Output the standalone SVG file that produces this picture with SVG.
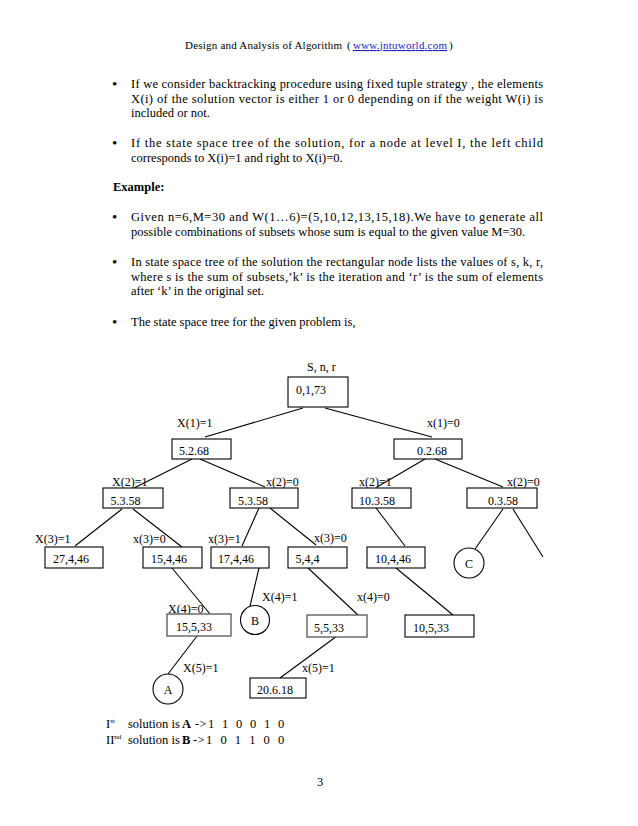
<svg xmlns="http://www.w3.org/2000/svg" width="638" height="826" viewBox="0 0 638 826">
<style>
text{font-family:"Liberation Serif","Times New Roman",serif;fill:#000}
.hd{font-size:11px}
.link{fill:#1a1ab8;text-decoration:underline}
.bd{font-size:12.5px}
.bl{font-size:15px}
.b{font-weight:bold}
.t{font-size:12px}
.box{fill:#fff;stroke:#000;stroke-width:1.1}
.gbox{fill:#fff;stroke:#555;stroke-width:1.3}
.circ{fill:#fff;stroke:#000;stroke-width:1.1}
.edge{stroke:#000;stroke-width:1.1;fill:none}
.sup{font-size:7px}
</style>
<rect width="638" height="826" fill="#fff"/>
<g id="header">
<text class="hd" x="185" y="49" textLength="157" lengthAdjust="spacing">Design and Analysis of Algorithm</text>
<text class="hd" x="347" y="49">(</text>
<text class="hd link" x="353" y="49" textLength="94" lengthAdjust="spacing">www.jntuworld.com</text>
<text class="hd" x="449" y="49">)</text>
</g>
<g id="body">
<text class="bl" x="112" y="89">•</text>
<text class="bd" x="131" y="88" textLength="412" lengthAdjust="spacing">If we consider backtracking procedure using fixed tuple strategy , the elements</text>
<text class="bd" x="131" y="102.5" textLength="412" lengthAdjust="spacing">X(i) of the solution vector is either 1 or 0 depending on if the weight W(i) is</text>
<text class="bd" x="131" y="117">included or not.</text>
<text class="bl" x="112" y="148">•</text>
<text class="bd" x="131" y="147" textLength="412" lengthAdjust="spacing">If the state space tree of the solution, for a node at level I, the left child</text>
<text class="bd" x="131" y="162">corresponds to X(i)=1 and right to X(i)=0.</text>
<text class="bd b" x="113" y="191">Example:</text>
<text class="bl" x="112" y="222">•</text>
<text class="bd" x="131" y="221" textLength="412" lengthAdjust="spacing">Given n=6,M=30 and W(1…6)=(5,10,12,13,15,18).We have to generate all</text>
<text class="bd" x="131" y="236">possible combinations of subsets whose sum is equal to the given value M=30.</text>
<text class="bl" x="112" y="267">•</text>
<text class="bd" x="131" y="266" textLength="412" lengthAdjust="spacing">In state space tree of the solution the rectangular node lists the values of s, k, r,</text>
<text class="bd" x="131" y="280.5" textLength="412" lengthAdjust="spacing">where s is the sum of subsets,’k’ is the iteration and ‘r’ is the sum of elements</text>
<text class="bd" x="131" y="295">after ‘k’ in the original set.</text>
<text class="bl" x="112" y="327">•</text>
<text class="bd" x="131" y="326">The state space tree for the given problem is,</text>
</g>
<g id="connectors">
<line class="edge" x1="303" y1="408" x2="205" y2="437"/>
<line class="edge" x1="325" y1="408" x2="432" y2="437"/>
<line class="edge" x1="192" y1="459" x2="134" y2="488"/>
<line class="edge" x1="200" y1="459" x2="265" y2="487"/>
<line class="edge" x1="425" y1="459" x2="377" y2="487"/>
<line class="edge" x1="435" y1="459" x2="503" y2="487"/>
<line class="edge" x1="122" y1="509" x2="75" y2="546"/>
<line class="edge" x1="133" y1="509" x2="182" y2="547"/>
<line class="edge" x1="259" y1="508" x2="242" y2="546"/>
<line class="edge" x1="270" y1="508" x2="316" y2="545"/>
<line class="edge" x1="376" y1="508" x2="405" y2="546"/>
<line class="edge" x1="503" y1="509" x2="475" y2="549"/>
<line class="edge" x1="513" y1="509" x2="543" y2="557"/>
<line class="edge" x1="172" y1="568" x2="210" y2="614"/>
<line class="edge" x1="259" y1="568" x2="250" y2="606"/>
<line class="edge" x1="308" y1="568" x2="358" y2="615"/>
<line class="edge" x1="396" y1="568" x2="453" y2="615"/>
<line class="edge" x1="197" y1="636" x2="168" y2="674"/>
<line class="edge" x1="337" y1="636" x2="280" y2="678"/>
</g>
<g id="edge-labels">
<text class="t" x="177" y="427">X(1)=1</text>
<text class="t" x="427" y="427">x(1)=0</text>
<text class="t" x="112" y="486">X(2)=1</text>
<text class="t" x="266" y="486">x(2)=0</text>
<text class="t" x="359" y="486">x(2)=1</text>
<text class="t" x="507" y="486">x(2)=0</text>
<text class="t" x="35" y="543">X(3)=1</text>
<text class="t" x="133" y="543">x(3)=0</text>
<text class="t" x="208" y="543">x(3)=1</text>
<text class="t" x="314" y="542">x(3)=0</text>
<text class="t" x="168" y="613">X(4)=0</text>
<text class="t" x="262" y="600.5">X(4)=1</text>
<text class="t" x="357" y="600.5">x(4)=0</text>
<text class="t" x="183" y="672">X(5)=1</text>
<text class="t" x="302" y="672">x(5)=1</text>
</g>
<g id="root"><text class="t" x="307" y="371">S, n, r</text><rect class="box" x="288" y="377" width="60" height="30"/><text class="t" x="296" y="393.5">0,1,73</text></g>
<g id="n-5-2-68"><rect class="box" x="172" y="439" width="59" height="20"/><text class="t" x="179" y="455">5.2.68</text></g>
<g id="n-0-2-68"><rect class="box" x="394" y="439" width="68" height="20"/><text class="t" x="417" y="455">0.2.68</text></g>
<g id="n-5-3-58-a"><rect class="box" x="103" y="488" width="60" height="20"/><text class="t" x="110.5" y="504.5">5.3.58</text></g>
<g id="n-5-3-58-b"><rect class="box" x="230" y="488" width="68" height="20"/><text class="t" x="238" y="504.5">5.3.58</text></g>
<g id="n-10-3-58"><rect class="box" x="352" y="488" width="59" height="20"/><text class="t" x="359" y="504.5">10.3.58</text></g>
<g id="n-0-3-58"><rect class="box" x="467" y="488" width="70" height="20"/><text class="t" x="488" y="504.5">0.3.58</text></g>
<g id="n-27-4-46"><rect class="box" x="45" y="547" width="58" height="21"/><text class="t" x="53" y="563">27,4,46</text></g>
<g id="n-15-4-46"><rect class="box" x="143" y="547" width="59" height="21"/><text class="t" x="151" y="563">15,4,46</text></g>
<g id="n-17-4-46"><rect class="box" x="211" y="547" width="58" height="21"/><text class="t" x="218" y="563">17,4,46</text></g>
<g id="n-5-4-4"><rect class="box" x="288" y="547" width="59" height="21"/><text class="t" x="295.5" y="563">5,4,4</text></g>
<g id="n-10-4-46"><rect class="box" x="367" y="547" width="58" height="21"/><text class="t" x="375" y="563">10,4,46</text></g>
<g id="n-C"><circle class="circ" cx="469" cy="563" r="15"/><text class="t" x="469" y="567.5" text-anchor="middle">C</text></g>
<g id="n-15-5-33"><rect class="gbox" x="167" y="614" width="64" height="22"/><text class="t" x="176" y="631">15,5,33</text></g>
<g id="n-B"><circle class="circ" cx="255" cy="620" r="14.5"/><text class="t" x="255" y="624.5" text-anchor="middle">B</text></g>
<g id="n-5-5-33"><rect class="gbox" x="307" y="615" width="60" height="22"/><text class="t" x="314" y="631.5">5,5,33</text></g>
<g id="n-10-5-33"><rect class="box" x="405" y="615" width="69" height="22"/><text class="t" x="413" y="631.5">10,5,33</text></g>
<g id="n-A"><circle class="circ" cx="168" cy="689" r="15"/><text class="t" x="168" y="693.5" text-anchor="middle">A</text></g>
<g id="n-20-6-18"><rect class="box" x="250" y="678" width="56" height="20"/><text class="t" x="257" y="693.5">20.6.18</text></g>
<g id="solutions">
<text class="bd" x="106" y="728">I<tspan class="sup" dy="-5">st</tspan></text>
<text class="bd" x="128" y="728">solution is</text>
<text class="bd b" x="182" y="728">A</text>
<text class="bd" x="195" y="728">-&gt;</text>
<text class="bd" y="728"><tspan x="208">1</tspan><tspan x="222">1</tspan><tspan x="236">0</tspan><tspan x="250">0</tspan><tspan x="264">1</tspan><tspan x="278">0</tspan></text>
<text class="bd" x="106" y="744">II<tspan class="sup" dy="-5">nd</tspan></text>
<text class="bd" x="128" y="744">solution is</text>
<text class="bd b" x="182" y="744">B</text>
<text class="bd" x="193" y="744">-&gt;</text>
<text class="bd" y="744"><tspan x="206">1</tspan><tspan x="220.4">0</tspan><tspan x="234.8">1</tspan><tspan x="249.2">1</tspan><tspan x="263.6">0</tspan><tspan x="278">0</tspan></text>
</g>
<text class="bd" x="317" y="786">3</text>
</svg>
